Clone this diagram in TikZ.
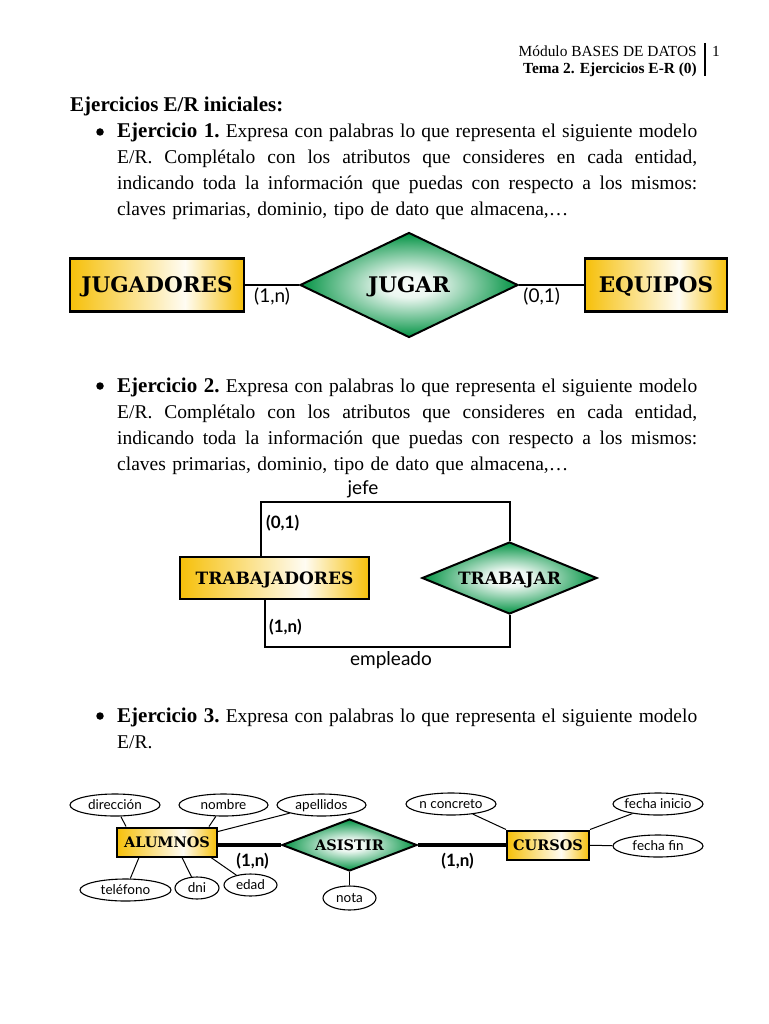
\documentclass[tikz,border=0pt]{standalone}
\usepackage{fontspec}
\setmainfont{Liberation Serif}
\newfontfamily\erfont{DejaVu Serif}
\newfontfamily\lblfont{Lato}
\usetikzlibrary{shapes.geometric, positioning}
\usepackage{xcolor}
\definecolor{ergold}{RGB}{246, 192, 10}
\definecolor{ergreen}{RGB}{0, 146, 66}
\pgfdeclarehorizontalshading{goldfade}{100bp}{color(0bp)=(ergold); color(25bp)=(ergold); color(58bp)=(ergold!5); color(75bp)=(ergold); color(100bp)=(ergold)}
\pgfdeclareradialshading{greenfade}{\pgfpointorigin}{color(0bp)=(ergreen!2); color(6bp)=(ergreen!8); color(19bp)=(ergreen!70); color(25bp)=(ergreen); color(50bp)=(ergreen)}
\newcommand{\ejtitle}[1]{{\fontsize{21}{26}\selectfont\bfseries #1}}
\newcommand{\fullline}[1]{\makebox[580pt][s]{\spaceskip=0pt\xspaceskip=0pt #1}}
\tikzset{
  ent/.style={
    rectangle, draw=black, line width=2.4pt,
    shade, shading=goldfade, inner sep=0pt, text depth=0pt,
    font=\erfont\bfseries\fontsize{#1}{#1}\selectfont
  },
  rel/.style={
    diamond, draw=black, line width=2pt,
    shade, shading=greenfade, inner sep=0pt, aspect=2, text depth=0pt,
    font=\erfont\bfseries\fontsize{#1}{#1}\selectfont
  },
  attr/.style={
    ellipse, draw=black, line width=1.1pt, fill=white,
    inner xsep=-6pt, inner ysep=0pt, text height=11pt, text depth=1.5pt,
    minimum width=90pt, minimum height=22pt,
    font=\lblfont\fontsize{13.5}{13.5}\selectfont
  },
  para/.style={
    anchor=base west, text width=580pt, align=left,
    inner sep=0pt, font=\fontsize{19.5}{26}\selectfont\frenchspacing
  },
  bul/.style={circle, fill=black, inner sep=0pt, minimum size=7.5pt},
  card/.style={font=\lblfont\fontsize{19}{19}\selectfont, inner sep=2pt},
  bcard/.style={font=\lblfont\bfseries\fontsize{17}{17}\selectfont, inner sep=2pt},
  link/.style={line width=2pt},
  flink/.style={line width=1pt},
  tlink/.style={line width=4pt},
}
\begin{document}
\begin{tikzpicture}[x=1pt, y=-1pt]
  \fill[white] (0,0) rectangle (768,1024);
  \useasboundingbox (0,0) rectangle (768,1024);

  % page header
  \node[anchor=base east, inner sep=0pt, font=\fontsize{15.4}{18}\selectfont] (mod) at (697,57) {Módulo BASES DE DATOS};
  \node[anchor=base east, inner sep=0pt, font=\fontsize{15.4}{18}\selectfont\bfseries] (tema) at (697,74) {Tema 2. Ejercicios E-R (0)};
  \node[anchor=base west, inner sep=0pt, font=\fontsize{15.4}{18}\selectfont] (pag) at (712,57) {1};
  \draw[line width=1.3pt] (705,43) -- (705,76);

  \node[anchor=base west, inner sep=0pt, font=\fontsize{21}{26}\selectfont\bfseries] (tit) at (70,112) {Ejercicios E/R iniciales:};

  % ejercicio 1
  \node[bul] (b1) at (100,132) {};
  \node[para] (ej1) at (117,138) {\fullline{\ejtitle{Ejercicio 1.} Expresa con palabras lo que representa el siguiente modelo}\\
    \fullline{E/R. Complétalo con los atributos que consideres en cada entidad,}\\
    \fullline{indicando toda la información que puedas con respecto a los mismos:}\\
    claves primarias, dominio, tipo de dato que almacena,…};

  \node[ent=21.5, minimum width=174pt, minimum height=53pt] (jugadores) at (157,285) {JUGADORES};
  \node[rel=21.5, minimum width=218pt, minimum height=105pt] (jugar) at (409,285) {JUGAR};
  \node[ent=21.5, minimum width=142pt, minimum height=53pt] (equipos) at (656,285) {EQUIPOS};
  \draw[link] (jugadores) -- node[card, below] {(1,n)} (jugar);
  \draw[link] (jugar) -- node[card, below, pos=0.35] {(0,1)} (equipos);

  % ejercicio 2
  \node[bul] (b2) at (100,386) {};
  \node[para] (ej2) at (117,392) {\fullline{\ejtitle{Ejercicio 2.} Expresa con palabras lo que representa el siguiente modelo}\\
    \fullline{E/R. Complétalo con los atributos que consideres en cada entidad,}\\
    \fullline{indicando toda la información que puedas con respecto a los mismos:}\\
    claves primarias, dominio, tipo de dato que almacena,…};

  \node[ent=17, minimum width=189pt, minimum height=42pt] (trabajadores) at (274.5,578) {TRABAJADORES};
  \node[rel=17, minimum width=175pt, minimum height=72pt] (trabajar) at (509.5,578) {TRABAJAR};
  \coordinate (jefe) at (363,502);
  \coordinate (empleado) at (391,647);
  \draw[link] ([xshift=-13.5pt]trabajadores.north) |- (jefe) -| (trabajar.north);
  \draw[link] ([xshift=-9.5pt]trabajadores.south) |- (empleado) -| (trabajar.south);
  \node[card, above=2pt] at (jefe) {jefe};
  \node[card, below=2pt] at (empleado) {empleado};
  \node[bcard, anchor=west] (c01) at (264,523) {(0,1)};
  \node[bcard, anchor=west] (c1n) at (267,627) {(1,n)};

  % ejercicio 3
  \node[bul] (b3) at (100,716) {};
  \node[para] (ej3) at (117,722) {\fullline{\ejtitle{Ejercicio 3.} Expresa con palabras lo que representa el siguiente modelo}\\
    E/R.};

  \node[ent=14.5, line width=2pt, minimum width=100pt, minimum height=29pt] (alumnos) at (167,842) {ALUMNOS};
  \node[rel=14.5, minimum width=135pt, minimum height=52pt] (asistir) at (349.5,845) {ASISTIR};
  \node[ent=14.5, line width=2pt, minimum width=82pt, minimum height=29pt] (cursos) at (548,845) {CURSOS};

  \node[attr] (direccion) at (115,805) {dirección};
  \node[attr, minimum width=89pt] (nombre) at (223.5,805) {nombre};
  \node[attr, minimum width=89pt] (apellidos) at (321.5,805) {apellidos};
  \node[attr, minimum width=91pt] (telefono) at (125.5,890) {teléfono};
  \node[attr, minimum width=44pt] (dni) at (197,888) {dni};
  \node[attr, minimum width=53pt] (edad) at (250.5,885) {edad};
  \node[attr, minimum width=53pt, minimum height=24pt] (nota) at (349.5,898) {nota};
  \node[attr, minimum width=90pt] (nconcreto) at (451,804) {n concreto};
  \node[attr] (fechaini) at (658,804) {fecha inicio};
  \node[attr] (fechafin) at (658,846) {fecha fin};

  \draw[tlink] (alumnos.east |- asistir) -- node[bcard, below=4pt, pos=0.55] {(1,n)} (asistir);
  \draw[tlink] (asistir) -- node[bcard, below=4pt, pos=0.45] {(1,n)} (cursos);
  \draw[flink] (direccion) -- ([xshift=10pt]alumnos.north west);
  \draw[flink] (nombre) -- ([xshift=-9pt]alumnos.north east);
  \draw[flink] (apellidos) -- ([yshift=-5pt]alumnos.north east);
  \draw[flink] (telefono) -- ([xshift=23pt]alumnos.south west);
  \draw[flink] (dni) -- ([xshift=15pt]alumnos.south);
  \draw[flink] (edad) -- ([xshift=-7pt]alumnos.south east);
  \draw[flink] (nota) -- (asistir);
  \draw[flink] (nconcreto) -- (cursos.north west);
  \draw[flink] (fechaini) -- (cursos.north east);
  \draw[flink] (fechafin) -- (cursos);
\end{tikzpicture}
\end{document}
